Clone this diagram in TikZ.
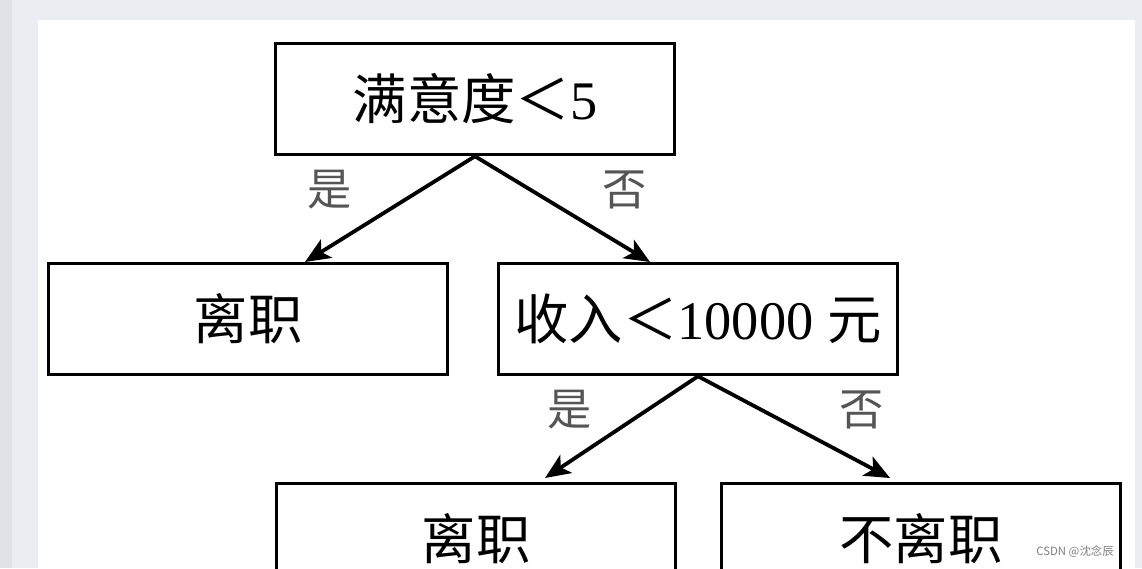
\documentclass[tikz,border=0pt]{standalone}
\usepackage{fontspec}
\setmainfont{Liberation Serif}
\newfontfamily\cjk{Noto Sans CJK SC}
\usetikzlibrary{positioning,arrows.meta}
\definecolor{pagegray}{HTML}{ECEDF2}
\definecolor{stripgray}{HTML}{E0E2E8}
\definecolor{labelgray}{HTML}{555555}
\tikzset{
  treebox/.style={draw=black, line width=2.4pt, minimum width=11.1cm, minimum height=3.1cm, font=\fontsize{43}{48}\selectfont, inner sep=0pt},
  treearrow/.style={-{Stealth[length=20pt,width=17pt,inset=5pt]}, line width=3pt},
  branchlabel/.style={text=labelgray, font=\cjk\fontsize{35}{38}\selectfont}
}
\begin{document}
\begin{tikzpicture}[x=0.0278cm, y=-0.0278cm]
\useasboundingbox (0,0) rectangle (1142,568);
\fill[pagegray] (0,0) rectangle (1142,568);
\fill[stripgray] (0,0) rectangle (12,568);
\fill[white] (38,20) rectangle (1135,568);
% boxes
\node[treebox] (root) at (475,99) {{\cjk 满意度＜}5};
\node[treebox] (quit1) at (248,319) {\cjk 离职};
\node[treebox] (income) at (698,319) {{\cjk 收入＜}10000 {\cjk 元}};
\node[treebox] (quit2) at (476,539) {\cjk 离职};
\node[treebox] (stay) at (921,539) {\cjk 不离职};
% arrow ends
\coordinate (e1) at (305,262);
\coordinate (e2) at (650,262);
\coordinate (e3) at (545,478);
\coordinate (e4) at (890,478);
\draw[treearrow] (root.south) -- (e1);
\draw[treearrow] (root.south) -- (e2);
\draw[treearrow] (income.south) -- (e3);
\draw[treearrow] (income.south) -- (e4);
% labels
\node[branchlabel] (yes1) at (330,190) {是};
\node[branchlabel] (no1) at (625,190) {否};
\node[branchlabel] (yes2) at (570,410) {是};
\node[branchlabel] (no2) at (862,410) {否};
\node[text=gray, font=\cjk\fontsize{9}{11}\selectfont] (mark) at (1075,552) {CSDN @沈念辰};
\end{tikzpicture}
\end{document}
